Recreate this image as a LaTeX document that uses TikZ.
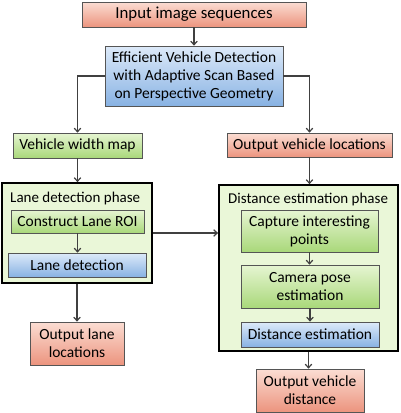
\documentclass[tikz,border=0pt]{standalone}
\usepackage{fontspec}
\setmainfont{Carlito}
\usetikzlibrary{arrows.meta,shadows,shadings}
\definecolor{salT}{HTML}{FBDDD3}
\definecolor{salB}{HTML}{EC947E}
\definecolor{bluT}{HTML}{DDEAF9}
\definecolor{bluB}{HTML}{88B2E3}
\definecolor{grnT}{HTML}{E6F5D2}
\definecolor{grnB}{HTML}{A9D87A}
\definecolor{phaseF}{HTML}{EAF7D8}
\definecolor{edge}{HTML}{555555}
\definecolor{conn}{HTML}{404040}
\tikzset{
  box/.style={draw=edge, line width=0.8pt, align=center, inner sep=1pt,
    font=\fontsize{15.5}{18}\selectfont,
    drop shadow={shadow xshift=1.2pt, shadow yshift=-1.2pt, opacity=0.35, fill=gray}},
  salbox/.style={box, top color=salT, bottom color=salB},
  blubox/.style={box, top color=bluT, bottom color=bluB},
  grnbox/.style={box, top color=grnT, bottom color=grnB},
  phasebox/.style={draw=black, line width=1.8pt, fill=phaseF},
  phasetitle/.style={font=\fontsize{15}{17.5}\selectfont, anchor=west, inner sep=0pt},
  conn/.style={draw=conn, line width=1.2pt, -{Straight Barb[length=3.5pt,width=6.5pt]}},
  plainconn/.style={draw=conn, line width=1.2pt}
}
\begin{document}
\begin{tikzpicture}[x=1pt,y=-1pt]
\useasboundingbox (0,0) rectangle (400,413);
% phase boxes
\node[phasebox, minimum width=150pt, minimum height=100pt, inner sep=0pt] (lp) at (77,233) {};
\node[phasebox, minimum width=179pt, minimum height=166pt, inner sep=0pt] (dp) at (308.5,268) {};
\node[phasetitle] (lpt) at (10,198) {Lane detection phase};
\node[phasetitle] (dpt) at (228,199) {Distance estimation phase};
% boxes
\node[salbox, minimum width=224pt, minimum height=25pt, font=\fontsize{16.8}{19}\selectfont] (in) at (194,14.5) {Input image sequences};
\node[blubox, minimum width=178pt, minimum height=60pt] (eff) at (194,76) {Efficient Vehicle Detection\\with Adaptive Scan Based\\on Perspective Geometry};
\node[grnbox, minimum width=129pt, minimum height=25pt] (vwm) at (77.5,145.5) {Vehicle width map};
\node[salbox, minimum width=165pt, minimum height=24pt] (ovl) at (309.5,145) {Output vehicle locations};
\node[grnbox, minimum width=133pt, minimum height=23pt] (roi) at (77.5,221.5) {Construct Lane ROI};
\node[blubox, minimum width=138pt, minimum height=24pt] (ld) at (77,265) {Lane detection};
\node[grnbox, minimum width=137pt, minimum height=42pt] (cap) at (309.5,231) {Capture interesting\\points};
\node[grnbox, minimum width=138pt, minimum height=43pt] (cam) at (310,286.5) {Camera pose\\estimation};
\node[blubox, minimum width=138pt, minimum height=25pt] (de) at (310,334.5) {Distance estimation};
\node[salbox, minimum width=94pt, minimum height=43pt] (oll) at (77,343.5) {Output lane\\locations};
\node[salbox, minimum width=108pt, minimum height=43pt] (ovd) at (310,390.5) {Output vehicle\\distance};
% connectors
\draw[conn] (in) -- (eff);
\draw[conn] (eff.west) -| (vwm.north);
\draw[conn] (eff.east) -| (ovl.north);
\draw[conn] (vwm.south) -- (vwm.south |- lp.north);
\draw[conn] (ovl.south) -- (ovl.south |- dp.north);
\draw[conn] (roi) -- (roi |- ld.north);
\draw[conn] (lp.east) -- (lp.east -| dp.west);
\draw[conn] (cap) -- (cap |- cam.north);
\draw[conn] (cam) -- (cam |- de.north);
\draw[conn] (lp.south) -- (lp.south |- oll.north);
\draw[conn] (dp.south) -- (dp.south |- ovd.north);
\end{tikzpicture}
\end{document}
